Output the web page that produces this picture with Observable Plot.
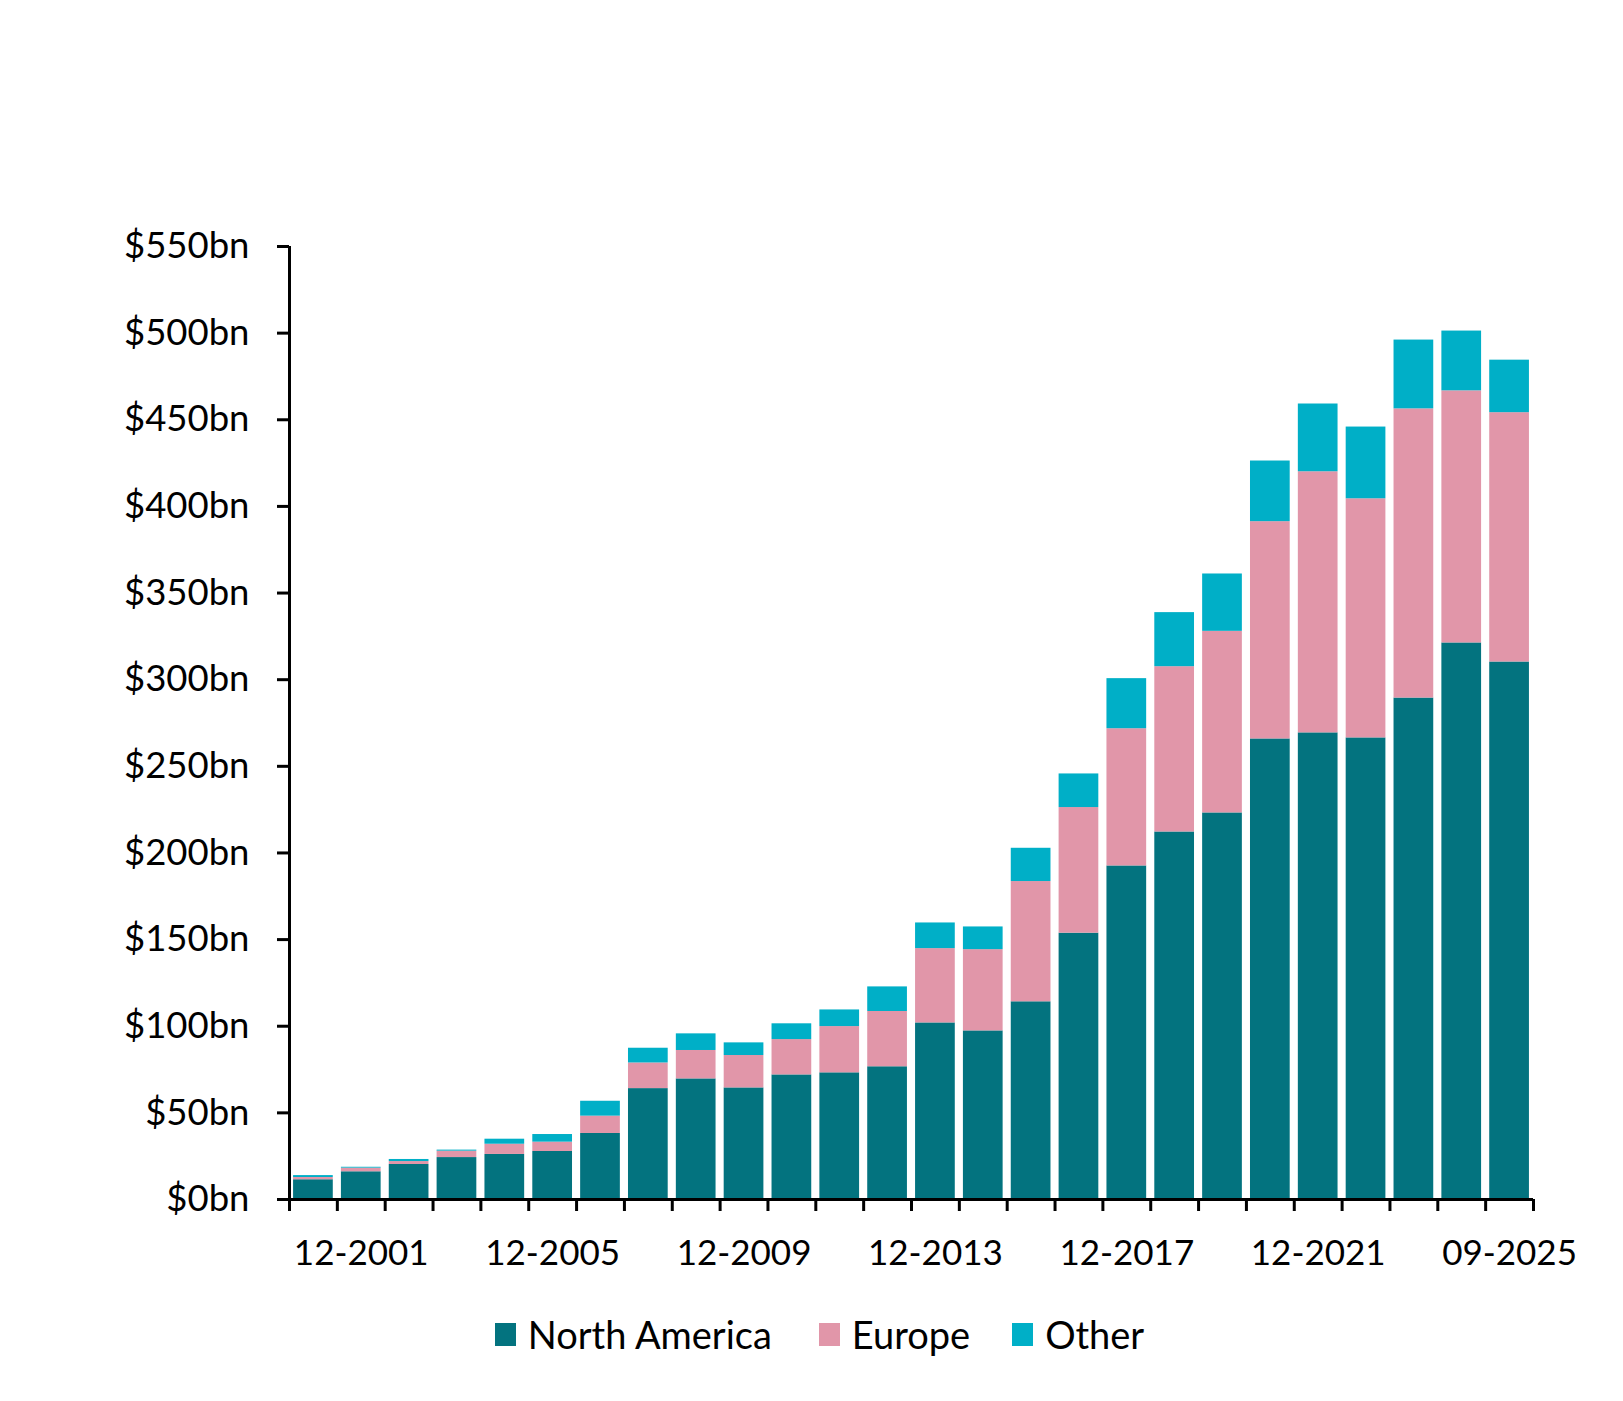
<!DOCTYPE html>
<html><head><meta charset="utf-8">
<script src="https://cdn.jsdelivr.net/npm/d3@7"></script>
<script src="https://cdn.jsdelivr.net/npm/@observablehq/plot@0.6"></script>
<style>
body{margin:0;background:#fff;font-family:Lato,"Open Sans",sans-serif;}
#wrap{position:relative;width:1623px;height:1401px;background:#fff;}
#legend{position:absolute;left:0;width:1623px;top:1311px;display:flex;justify-content:center;align-items:center;font-size:38px;color:#000;padding-left:16px;box-sizing:border-box;}
.item{display:flex;align-items:center;}
.sw{width:21px;height:23px;margin-right:12px;}
</style></head><body><div id="wrap"><div id="chart"></div><div id="legend"></div></div>
<script>
const dates = ["12-2000","12-2001","12-2002","12-2003","12-2004","12-2005","12-2006","12-2007","12-2008","12-2009","12-2010","12-2011","12-2012","12-2013","12-2014","12-2015","12-2016","12-2017","12-2018","12-2019","12-2020","12-2021","12-2022","12-2023","12-2024","09-2025"];
const northAmerica = [11.4,16.0,20.2,24.2,26.0,27.7,38.1,64.0,69.6,64.4,71.9,73.1,76.6,101.9,97.3,114.1,153.7,192.5,212.1,223.1,265.8,269.3,266.4,289.4,321.2,310.2];
const europe = [1.3,2.1,1.7,3.7,5.9,5.4,10.0,14.8,16.4,18.7,20.4,26.7,31.9,42.9,46.9,69.4,72.5,79.2,95.4,104.8,125.4,150.7,138.0,166.9,145.5,143.9];
const other = [1.1,0.5,1.2,0.6,2.9,4.4,8.6,8.5,9.6,7.3,9.1,9.6,14.2,14.8,13.1,19.2,19.4,28.9,31.2,33.1,35.0,39.1,41.4,39.7,34.5,30.3];
const regions = ["North America","Europe","Other"];
const regionColors = ["#03737F","#E196A9","#00AFC7"];
const xTickLabels = ["12-2001","12-2005","12-2009","12-2013","12-2017","12-2021","09-2025"];
const yTicks = d3.range(0, 551, 50);

const series = [northAmerica, europe, other];
const table = [];
dates.forEach((d, i) => regions.forEach((r, k) => table.push({date: d, region: r, value: series[k][i]})));

const W = 1623, H = 1290, mL = 289, mR = 90, mT = 246, mB = 91;
const step = (W - mL - mR) / dates.length;

const chart = Plot.plot({
  width: W, height: H,
  marginLeft: mL, marginRight: mR, marginTop: mT, marginBottom: mB,
  style: {fontFamily: "Lato, 'Open Sans', sans-serif", fontSize: "35px", color: "#000", background: "#fff"},
  x: {type: "band", domain: dates, paddingInner: 0.17, paddingOuter: 0.085, round: false, axis: null, label: null},
  y: {domain: [0, 550], axis: null, label: null},
  color: {domain: regions, range: regionColors},
  marks: [
    Plot.barY(table, {x: "date", y: "value", fill: "region"}),
    Plot.axisY({ticks: yTicks, tickFormat: d => `$${d}bn`, tickSize: 12, tickPadding: 28, fontSize: 36.5, strokeWidth: 3, label: null}),
    Plot.ruleX([dates[0]], {dx: -step / 2, y1: 0, y2: 550, strokeWidth: 3}),
    Plot.ruleY([0], {strokeWidth: 3}),
    Plot.axisX({ticks: dates, tickFormat: () => "", tickSize: 12, dx: -step / 2, strokeWidth: 3, label: null}),
    Plot.axisX({ticks: [dates[dates.length - 1]], tickFormat: () => "", tickSize: 12, dx: step / 2, strokeWidth: 3, label: null}),
    Plot.axisX({ticks: xTickLabels, tickSize: 0, tickPadding: 41, fontSize: 35, label: null})
  ]
});
document.getElementById("chart").appendChild(chart);

const lg = document.getElementById("legend");
const gaps = [0, 47, 42];
regions.forEach((r, k) => {
  const it = document.createElement("div");
  it.className = "item";
  it.style.marginLeft = gaps[k] + "px";
  const sw = document.createElement("div");
  sw.className = "sw";
  sw.style.background = regionColors[k];
  const tx = document.createElement("span");
  tx.textContent = r;
  it.appendChild(sw); it.appendChild(tx);
  lg.appendChild(it);
});
</script></body></html>
